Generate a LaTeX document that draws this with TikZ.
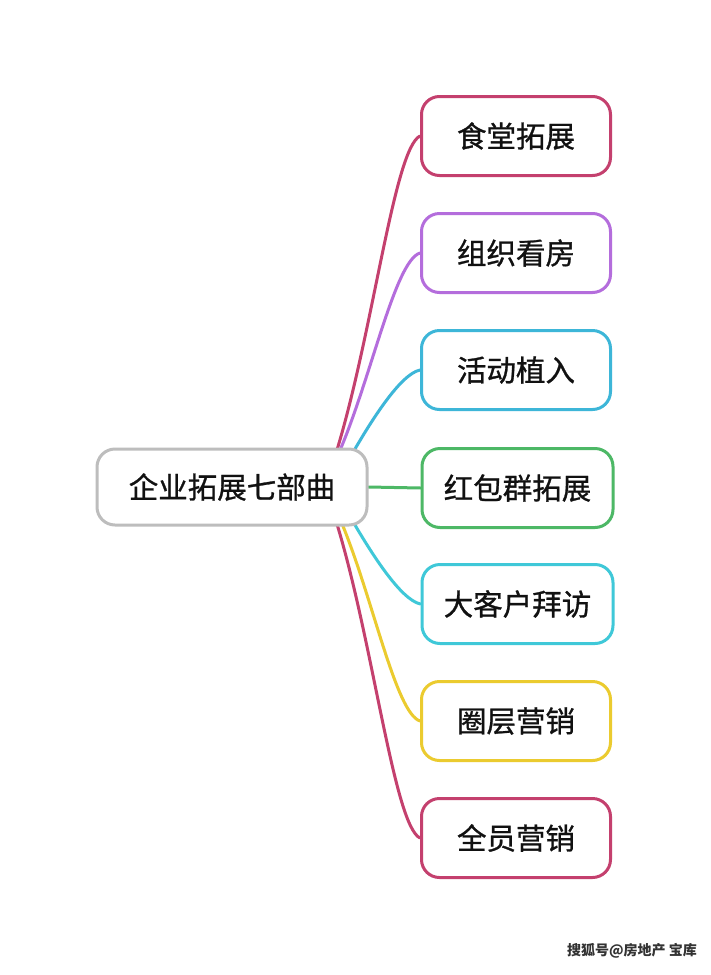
\documentclass[tikz,border=0pt]{standalone}
\usepackage{fontspec}
\setmainfont{Noto Sans CJK SC}
\newfontfamily\cjkmed[FakeBold=0.9]{Noto Sans CJK SC}
\usetikzlibrary{calc,backgrounds}
\definecolor{cCrim}{HTML}{C4406E}
\definecolor{cPurp}{HTML}{B46DDC}
\definecolor{cBlue}{HTML}{3DB6D8}
\definecolor{cGreen}{HTML}{4DB866}
\definecolor{cCyan}{HTML}{3FC8D8}
\definecolor{cYel}{HTML}{EBCB2F}
\definecolor{cGray}{HTML}{BDBDBD}
\definecolor{cText}{HTML}{111111}
\definecolor{cMark}{HTML}{333333}
\tikzset{
  mainbox/.style={draw=cGray, line width=3pt, rounded corners=18pt, fill=white,
    minimum width=270pt, minimum height=76pt, inner sep=0pt,
    font=\cjkmed\fontsize{29.5}{33}\selectfont, text=cText},
  leafbox/.style={draw=#1, line width=3pt, rounded corners=18pt, fill=white,
    minimum width=189pt, minimum height=79pt, inner sep=0pt,
    font=\cjkmed\fontsize{29.5}{33}\selectfont, text=cText},
  link/.style={draw=#1, line width=3pt, line cap=round},
  watermark/.style={font=\fontsize{14}{16}\selectfont\bfseries, text=cMark, inner sep=0pt}
}
% #1 start, #2 end, #3 colour, #4/#5 first control fractions (x,y from start),
% #6/#7 second control fractions (x,y back from end)
\newcommand{\branch}[7]{%
  \coordinate (ka) at ($(#1)!#4!(#2)$);
  \coordinate (kb) at ($(#1)!#5!(#2)$);
  \coordinate (kc) at ($(#2)!#6!(#1)$);
  \coordinate (kd) at ($(#2)!#7!(#1)$);
  \draw[link=#3] (#1) .. controls (ka |- kb) and (kc |- kd) .. (#2);}
\begin{document}
\begin{tikzpicture}[x=1pt,y=-1pt]
\useasboundingbox (0,0) rectangle (710,975);
\node[mainbox] (c) at (232,487) {企业拓展七部曲};
\node[leafbox=cCrim] (b1) at (516,136) {食堂拓展};
\node[leafbox=cPurp] (b2) at (516,253) {组织看房};
\node[leafbox=cBlue] (b3) at (516,370) {活动植入};
\node[leafbox=cGreen, minimum width=191pt] (b4) at (517.5,488) {红包群拓展};
\node[leafbox=cCyan, minimum width=191pt] (b5) at (517.5,604) {大客户拜访};
\node[leafbox=cYel] (b6) at (516,721) {圈层营销};
\node[leafbox=cCrim] (b7) at (516,838) {全员营销};
\coordinate (s1) at ($(c.north east)+(-32,4)$);
\coordinate (s2) at ($(c.north east)+(-29,4)$);
\coordinate (s3) at ($(c.north east)+(-15,4)$);
\coordinate (s5) at ($(c.south east)+(-15,-4)$);
\coordinate (s6) at ($(c.south east)+(-27,-4)$);
\coordinate (s7) at ($(c.south east)+(-32,-4)$);
\begin{scope}[on background layer]
\fill[white] (0,0) rectangle (710,975);
\branch{s1}{b1.west}{cCrim}{0.44}{0.38}{0.31}{0.04}
\branch{s2}{b2.west}{cPurp}{0.40}{0.38}{0.31}{0.04}
\branch{s3}{b3.west}{cBlue}{0.25}{0.35}{0.30}{0.05}
\draw[link=cGreen] (c.east) -- (b4.west);
\branch{s5}{b5.west}{cCyan}{0.25}{0.35}{0.30}{0.05}
\branch{s6}{b6.west}{cYel}{0.40}{0.38}{0.31}{0.04}
\branch{s7}{b7.west}{cCrim}{0.44}{0.38}{0.31}{0.04}
\end{scope}
\node[watermark, anchor=east] (wm) at (697,951) {搜狐号@房地产 宝库};
\end{tikzpicture}
\end{document}
